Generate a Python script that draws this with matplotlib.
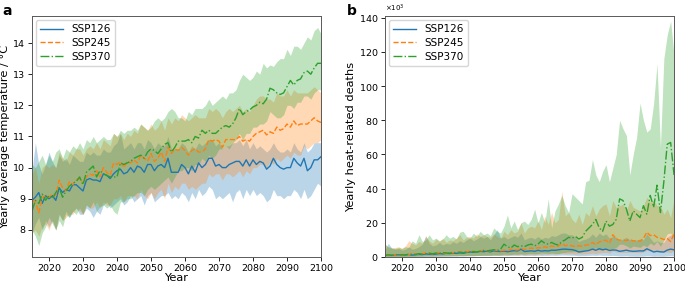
import numpy as np
import matplotlib
matplotlib.use("Agg")
import matplotlib.pyplot as plt

# years shared by both panels
years = np.arange(2015, 2101)
scenarios = ["SSP126", "SSP245", "SSP370"]

# panel a: yearly average temperature (degC), mean and band
temp_126 = [8.95, 9.05, 9.2, 8.85, 9.1, 9.0, 9.1, 8.95, 9.35, 9.2,
            9.3, 9.25, 9.45, 9.45, 9.35, 9.25, 9.6, 9.65, 9.6, 9.6,
            9.55, 9.8, 9.75, 9.65, 9.8, 9.9, 9.95, 9.8, 9.85, 10.0,
            9.85, 10.05, 10.0, 9.85, 10.1, 10.1, 9.9, 10.05, 10.1, 10.0,
            10.3, 9.85, 9.85, 9.85, 10.1, 10.0, 9.8, 10.05, 9.85, 10.15,
            10.0, 10.1, 10.3, 10.3, 10.05, 10.1, 10.0, 10.0, 10.1, 10.15,
            10.2, 10.2, 10.05, 10.25, 10.05, 10.25, 10.1, 10.2, 10.15, 9.95,
            10.05, 10.3, 10.1, 10.0, 9.95, 10.0, 10.0, 10.3, 10.15, 10.05,
            10.3, 9.9, 10.0, 10.25, 10.25, 10.35]
temp_126_lo = [7.9, 8.2, 8.4, 8.0, 8.3, 8.1, 8.3, 8.0, 8.5, 8.3,
               8.6, 8.4, 8.6, 8.7, 8.5, 8.5, 8.7, 8.6, 8.4, 8.6,
               8.5, 8.8, 8.9, 8.7, 8.8, 8.9, 9.0, 8.8, 8.9, 9.1,
               8.9, 9.0, 9.1, 8.8, 9.1, 9.2, 8.9, 9.0, 9.1, 9.1,
               9.2, 9.0, 9.1, 9.0, 9.2, 9.1, 8.9, 9.2, 9.0, 9.3,
               9.1, 9.2, 9.4, 9.3, 9.0, 9.1, 9.0, 9.1, 9.2, 8.9,
               9.2, 9.3, 9.0, 9.3, 9.1, 9.3, 9.1, 9.2, 9.1, 8.9,
               9.0, 9.3, 9.1, 9.1, 9.0, 9.1, 9.1, 9.3, 9.2, 9.0,
               9.3, 9.0, 9.1, 9.3, 9.5, 9.4]
temp_126_hi = [9.9, 10.8, 10.1, 9.8, 10.1, 10.5, 10.2, 10.0, 10.4, 10.2,
               10.3, 10.1, 10.4, 10.3, 10.2, 10.2, 10.5, 10.4, 10.5, 10.4,
               10.4, 10.6, 10.5, 10.5, 10.7, 10.8, 11.1, 10.6, 10.7, 10.8,
               10.6, 10.8, 10.8, 10.6, 10.9, 10.8, 10.6, 10.8, 10.7, 10.7,
               11.0, 10.6, 10.6, 10.6, 10.8, 10.7, 10.5, 10.7, 10.6, 10.8,
               10.7, 10.8, 10.9, 10.9, 10.7, 10.8, 10.6, 10.7, 10.7, 10.8,
               10.8, 10.9, 10.7, 10.9, 10.6, 10.8, 10.6, 10.7, 10.6, 10.5,
               10.6, 10.8, 10.6, 10.5, 10.5, 10.6, 10.5, 10.8, 10.6, 10.5,
               10.8, 10.5, 10.6, 10.8, 10.8, 10.8]

temp_245 = [8.95, 8.9, 8.55, 9.05, 9.1, 9.05, 9.15, 9.1, 9.6, 9.35,
            9.25, 9.55, 9.45, 9.6, 9.65, 9.5, 9.7, 9.8, 9.75, 9.9,
            9.7, 10.0, 9.85, 9.75, 10.15, 10.1, 10.2, 10.0, 10.2, 10.15,
            10.25, 10.15, 10.4, 10.3, 10.2, 10.45, 10.2, 10.3, 10.5, 10.2,
            10.65, 10.45, 10.6, 10.55, 10.65, 10.55, 10.4, 10.55, 10.6, 10.5,
            10.5, 10.6, 10.9, 10.85, 10.9, 10.85, 10.65, 10.9, 10.9, 10.9,
            10.9, 11.0, 10.85, 10.9, 10.85, 11.0, 11.1, 11.15, 11.2, 11.05,
            11.15, 11.1, 11.3, 11.2, 11.25, 11.4, 11.3, 11.5, 11.35, 11.4,
            11.4, 11.4, 11.5, 11.6, 11.5, 11.45]
temp_245_lo = [7.9, 8.0, 7.8, 8.1, 8.2, 8.0, 8.3, 8.0, 8.5, 8.3,
               8.4, 8.5, 8.5, 8.7, 8.6, 8.5, 8.8, 8.7, 8.7, 8.9,
               8.7, 8.9, 8.8, 8.8, 9.0, 9.0, 9.1, 8.9, 9.1, 9.1,
               9.1, 9.0, 9.3, 9.1, 9.0, 9.2, 9.0, 9.2, 9.3, 9.0,
               9.5, 9.2, 9.4, 9.3, 9.5, 9.5, 9.3, 9.4, 9.3, 9.4,
               9.5, 9.5, 9.8, 9.7, 9.8, 9.8, 9.6, 9.8, 9.8, 9.7,
               9.8, 9.9, 9.7, 9.9, 9.8, 10.0, 10.0, 10.1, 10.1, 10.0,
               10.2, 10.1, 10.3, 10.2, 10.3, 10.4, 10.3, 10.5, 10.4, 10.4,
               10.7, 10.6, 10.7, 10.8, 10.8, 10.9]
temp_245_hi = [9.8, 10.0, 9.5, 10.0, 10.1, 10.0, 10.1, 10.0, 10.5, 10.3,
               10.2, 10.5, 10.4, 10.6, 10.6, 10.4, 10.6, 10.7, 10.6, 10.8,
               10.6, 10.9, 10.8, 10.7, 11.1, 11.0, 11.1, 10.9, 11.1, 11.0,
               11.2, 11.1, 11.4, 11.3, 11.2, 11.4, 11.2, 11.3, 11.5, 11.2,
               11.6, 11.4, 11.6, 11.5, 11.7, 11.6, 11.5, 11.6, 11.7, 11.6,
               11.6, 11.6, 11.9, 11.8, 11.9, 11.8, 11.6, 11.8, 11.9, 11.8,
               11.9, 12.0, 11.8, 11.9, 11.8, 12.0, 12.2, 12.3, 12.3, 12.2,
               12.2, 12.1, 12.4, 12.3, 12.3, 12.5, 12.3, 12.5, 12.4, 12.4,
               12.4, 12.4, 12.5, 12.6, 12.5, 12.4]

temp_370 = [8.6, 8.95, 8.85, 9.15, 8.95, 9.1, 9.0, 9.2, 9.35, 9.05,
            9.25, 9.4, 9.5, 9.55, 9.7, 9.45, 9.85, 9.95, 10.05, 9.7,
            9.9, 9.8, 9.75, 9.7, 9.7, 9.7, 10.15, 10.1, 10.15, 10.2,
            10.3, 10.35, 10.4, 10.3, 10.5, 10.6, 10.55, 10.45, 10.6, 10.75,
            10.8, 10.5, 10.65, 10.85, 10.85, 10.85, 10.9, 10.8, 11.0, 10.95,
            11.2, 11.1, 11.2, 11.1, 11.1, 11.2, 11.3, 11.35, 11.3, 11.4,
            11.6, 11.9, 11.7, 11.8, 11.85, 11.95, 12.0, 12.1, 12.05, 12.2,
            12.55, 12.5, 12.4, 12.35, 12.4, 12.6, 12.8, 12.65, 12.8, 12.85,
            13.05, 13.1, 13.0, 13.2, 13.35, 13.35]
temp_370_lo = [8.0, 7.8, 7.5, 7.9, 8.1, 8.4, 8.2, 8.0, 8.3, 8.1,
               8.5, 8.4, 8.6, 8.5, 8.7, 8.5, 8.8, 8.7, 8.9, 8.6,
               8.75, 8.8, 8.7, 8.8, 8.6, 8.5, 8.9, 8.9, 9.0, 9.0,
               9.1, 9.2, 9.2, 9.1, 9.3, 9.4, 9.3, 9.4, 9.5, 9.6,
               9.7, 9.5, 9.7, 9.9, 9.9, 10.0, 10.0, 9.9, 10.1, 10.1,
               10.3, 10.2, 10.4, 10.3, 10.4, 10.6, 10.6, 10.7, 10.6, 10.8,
               10.9, 11.1, 10.9, 11.1, 11.1, 11.3, 11.3, 11.4, 11.4, 11.5,
               11.8, 11.7, 11.6, 11.6, 11.7, 12.0, 12.0, 11.9, 12.1, 12.1,
               12.3, 12.3, 12.2, 12.4, 12.5, 12.5]
temp_370_hi = [10.1, 10.0, 10.2, 10.4, 10.1, 10.4, 10.2, 10.5, 10.6, 10.3,
               10.6, 10.5, 10.7, 10.6, 10.8, 10.6, 10.9, 10.8, 11.0, 10.8,
               10.9, 11.0, 10.9, 10.9, 11.1, 11.0, 11.2, 11.1, 11.2, 11.2,
               11.3, 11.2, 11.4, 11.3, 11.2, 11.3, 11.5, 11.6, 11.5, 11.6,
               11.8, 11.9, 11.8, 11.6, 11.6, 11.5, 11.8, 11.7, 11.9, 11.9,
               11.9, 12.0, 12.2, 12.0, 12.1, 12.2, 12.3, 12.2, 12.4, 12.4,
               12.5, 12.8, 13.0, 12.9, 12.8, 12.9, 13.1, 13.0, 13.35, 13.2,
               13.3, 13.25, 13.4, 13.5, 13.5, 13.8, 13.6, 13.9, 13.9, 13.8,
               14.0, 14.2, 14.1, 14.4, 14.5, 14.3]

# panel b: yearly heat-related deaths, in thousands
deaths_126 = [1.0, 1.2, 0.9, 1.1, 1.3, 1.0, 1.2, 1.4, 1.1, 1.3,
              1.5, 1.4, 1.8, 1.6, 1.5, 1.7, 2.0, 1.8, 2.1, 2.0,
              2.3, 2.1, 2.4, 2.2, 2.6, 3.0, 2.7, 2.9, 3.3, 3.1,
              3.4, 3.0, 3.6, 3.3, 3.2, 3.5, 3.1, 3.4, 3.7, 3.5,
              4.6, 3.2, 3.4, 3.6, 3.3, 3.9, 3.4, 3.7, 3.5, 4.0,
              3.9, 4.2, 4.5, 4.6, 4.4, 4.3, 3.8, 2.9, 3.2, 3.5,
              3.8, 4.6, 3.9, 4.8, 4.2, 4.6, 3.8, 4.1, 4.0, 3.3,
              3.6, 4.0, 3.5, 3.3, 3.4, 3.6, 3.5, 4.8, 3.9, 2.9,
              3.3, 3.0, 2.9, 4.0, 4.6, 4.2]
deaths_126_lo = [0.2, 0.3, 0.2, 0.3, 0.3, 0.2, 0.3, 0.4, 0.3, 0.3,
                 0.4, 0.4, 0.5, 0.4, 0.4, 0.5, 0.5, 0.5, 0.6, 0.5,
                 0.6, 0.6, 0.7, 0.6, 0.7, 0.8, 0.7, 0.8, 0.9, 0.8,
                 0.9, 0.8, 0.9, 0.9, 0.8, 0.9, 0.8, 0.9, 1.0, 0.9,
                 1.0, 0.8, 0.9, 0.9, 0.8, 1.0, 0.8, 0.9, 0.9, 1.0,
                 0.9, 1.0, 1.1, 1.1, 1.0, 1.0, 0.9, 0.7, 0.8, 0.8,
                 0.9, 1.0, 0.9, 1.1, 0.9, 1.0, 0.8, 0.9, 0.8, 0.6,
                 0.6, 0.7, 0.5, 0.5, 0.4, 0.5, 0.5, 0.7, 0.6, 0.4,
                 0.5, 0.4, 0.4, 0.6, 0.7, 0.6]
deaths_126_hi = [4.0, 8.0, 5.0, 4.5, 5.0, 4.0, 4.5, 6.0, 4.5, 5.0,
                 6.0, 7.5, 12.5, 8.0, 6.5, 7.0, 8.5, 7.0, 8.0, 7.5,
                 9.0, 8.0, 9.5, 8.5, 10.0, 11.0, 9.5, 10.5, 12.0, 11.0,
                 12.0, 10.0, 13.0, 16.0, 11.0, 12.0, 10.5, 11.5, 12.5, 11.5,
                 14.0, 10.0, 11.0, 11.5, 10.5, 12.0, 10.5, 11.5, 11.0, 12.5,
                 12.0, 13.0, 14.0, 14.0, 13.0, 13.0, 11.5, 9.0, 10.0, 10.5,
                 11.5, 13.5, 11.5, 14.0, 12.5, 13.5, 11.0, 12.0, 11.5, 9.5,
                 10.5, 11.5, 10.0, 9.5, 10.0, 10.5, 10.0, 13.5, 11.0, 8.5,
                 9.5, 8.5, 8.5, 11.5, 13.0, 12.0]

deaths_245 = [1.2, 1.0, 1.3, 1.1, 1.4, 1.0, 1.5, 1.3, 2.2, 1.8,
              1.6, 1.9, 2.5, 2.2, 1.8, 2.1, 2.6, 2.4, 2.2, 2.7,
              2.5, 3.0, 2.8, 3.1, 2.9, 3.6, 3.3, 3.0, 3.4, 4.0,
              3.7, 3.6, 4.2, 3.8, 3.5, 4.0, 3.6, 4.5, 4.3, 4.1,
              5.0, 4.4, 4.8, 5.2, 4.8, 5.5, 5.2, 6.0, 5.4, 6.5,
              5.9, 6.3, 7.8, 6.6, 7.0, 6.5, 6.0, 6.6, 6.2, 7.0,
              7.2, 8.5, 7.2, 8.8, 9.5, 9.8, 8.0, 13.0, 10.5, 9.8,
              9.8, 9.6, 10.2, 9.4, 9.6, 9.2, 10.8, 14.5, 12.5, 13.0,
              11.5, 11.0, 10.2, 10.8, 9.0, 13.5]
deaths_245_lo = [0.3, 0.3, 0.4, 0.3, 0.4, 0.3, 0.4, 0.4, 0.5, 0.5,
                 0.5, 0.5, 0.6, 0.6, 0.5, 0.6, 0.7, 0.7, 0.6, 0.8,
                 0.7, 0.8, 0.8, 0.9, 0.8, 1.0, 0.9, 0.9, 1.0, 1.1,
                 1.0, 1.0, 1.2, 1.1, 1.0, 1.1, 1.0, 1.3, 1.2, 1.2,
                 1.5, 1.2, 1.3, 1.4, 1.3, 1.5, 1.4, 1.7, 1.5, 1.8,
                 1.6, 1.7, 2.1, 1.8, 1.9, 1.8, 1.6, 1.8, 1.7, 1.9,
                 2.0, 2.3, 2.0, 2.4, 2.6, 2.7, 2.2, 3.5, 2.9, 2.7,
                 2.7, 2.6, 2.8, 2.6, 2.6, 2.5, 2.9, 3.9, 3.4, 3.5,
                 3.1, 3.0, 2.8, 2.9, 2.5, 3.6]
deaths_245_hi = [7.5, 5.5, 5.0, 5.5, 6.0, 5.0, 6.5, 9.5, 8.0, 7.0,
                 9.0, 8.0, 12.0, 9.5, 8.0, 10.5, 9.0, 11.0, 8.5, 10.0,
                 9.5, 11.0, 13.0, 10.0, 11.5, 12.0, 11.0, 13.5, 12.0, 13.0,
                 12.0, 11.5, 13.5, 12.0, 11.0, 15.0, 13.0, 16.0, 14.0, 15.0,
                 20.0, 14.0, 17.0, 18.0, 17.0, 21.0, 16.0, 24.0, 19.0, 26.0,
                 20.0, 22.0, 38.5, 24.0, 26.0, 22.0, 20.0, 25.0, 19.0, 26.0,
                 24.0, 30.0, 24.0, 28.0, 30.0, 31.0, 24.0, 33.0, 29.0, 30.0,
                 31.0, 27.0, 33.0, 29.0, 28.0, 27.0, 30.0, 35.0, 32.0, 33.0,
                 30.0, 30.0, 25.0, 28.0, 23.0, 34.0]

deaths_370 = [0.8, 1.2, 1.0, 1.4, 1.1, 1.3, 1.2, 1.6, 1.4, 1.5,
              1.9, 1.6, 1.8, 2.2, 1.9, 2.3, 2.0, 2.6, 2.3, 2.2,
              2.6, 2.4, 2.8, 2.5, 2.9, 2.6, 3.2, 3.0, 3.3, 3.8,
              3.5, 3.9, 4.2, 3.8, 4.5, 7.5, 6.0, 5.2, 7.0, 6.0,
              6.5, 6.0, 7.0, 7.5, 6.5, 7.5, 9.5, 8.0, 7.5, 8.5,
              7.5, 7.0, 9.0, 10.0, 11.5, 11.0, 12.0, 10.5, 11.5, 15.0,
              17.0, 19.0, 22.0, 17.0, 15.0, 21.0, 18.0, 19.0, 22.0, 34.0,
              33.0, 28.0, 21.0, 27.0, 25.0, 23.0, 30.0, 25.0, 36.0, 29.0,
              42.0, 26.0, 44.0, 66.0, 67.0, 48.0]
deaths_370_lo = [0.1, 0.2, 0.2, 0.3, 0.2, 0.3, 0.3, 0.3, 0.3, 0.4,
                 0.4, 0.4, 0.4, 0.5, 0.5, 0.5, 0.5, 0.6, 0.6, 0.6,
                 0.7, 0.6, 0.7, 0.7, 0.8, 0.7, 0.8, 0.9, 0.9, 1.0,
                 1.0, 1.1, 1.2, 1.1, 1.3, 1.6, 1.5, 1.4, 1.7, 1.6,
                 1.8, 1.6, 1.9, 2.0, 1.8, 2.0, 2.4, 2.2, 2.1, 2.3,
                 2.1, 2.0, 2.5, 2.7, 3.0, 3.0, 3.2, 2.9, 3.1, 3.8,
                 4.2, 4.6, 5.2, 4.3, 4.0, 5.2, 4.6, 4.8, 5.5, 7.5,
                 7.4, 6.5, 5.2, 6.4, 6.0, 5.6, 7.0, 6.0, 8.2, 6.8,
                 9.2, 6.2, 9.8, 13.5, 14.0, 10.5]
deaths_370_hi = [7.5, 6.0, 5.5, 5.0, 5.5, 5.0, 6.0, 5.5, 9.5, 8.0,
                 13.0, 9.0, 10.0, 13.0, 10.0, 11.0, 9.5, 10.5, 13.0, 11.0,
                 12.0, 10.5, 14.5, 15.0, 12.0, 11.0, 14.0, 12.0, 15.0, 13.0,
                 14.0, 12.5, 17.0, 15.0, 14.0, 18.0, 24.5, 17.0, 21.0, 16.0,
                 20.0, 21.0, 19.0, 22.0, 28.0, 20.0, 26.0, 20.0, 34.0, 17.0,
                 27.0, 31.0, 36.0, 30.0, 26.0, 37.0, 35.0, 33.0, 31.0, 44.0,
                 45.0, 57.0, 48.0, 44.0, 50.0, 54.0, 44.0, 52.0, 60.0, 80.0,
                 75.0, 71.0, 48.0, 60.0, 70.0, 90.0, 80.0, 73.0, 75.0, 90.0,
                 113.0, 64.0, 116.0, 130.0, 138.0, 118.0]

colors = ["tab:blue", "tab:orange", "tab:green"]
styles = ["-", "--", "-."]

temp = [(temp_126, temp_126_lo, temp_126_hi),
        (temp_245, temp_245_lo, temp_245_hi),
        (temp_370, temp_370_lo, temp_370_hi)]
deaths = [(deaths_126, deaths_126_lo, deaths_126_hi),
          (deaths_245, deaths_245_lo, deaths_245_hi),
          (deaths_370, deaths_370_lo, deaths_370_hi)]

fig = plt.figure(figsize=(6.85, 2.83), dpi=100)
ax1 = fig.add_axes([0.0467, 0.092, 0.4219, 0.8515])
ax2 = fig.add_axes([0.562, 0.092, 0.422, 0.8515])

for ax, data, scale in [(ax1, temp, 1.0), (ax2, deaths, 1000.0)]:
    for name, (m, lo, hi), c, ls in zip(scenarios, data, colors, styles):
        ax.plot(years, np.array(m) * scale, color=c, ls=ls, lw=1, label=name)
        ax.fill_between(years, np.array(lo) * scale, np.array(hi) * scale,
                        color=c, alpha=0.3, lw=0)
    ax.set_xlim(2015, 2100)
    ax.set_xticks(range(2020, 2101, 10))
    ax.tick_params(labelsize=6.8, length=3, width=0.6, pad=2)
    ax.set_xlabel("Year", fontsize=8.2, labelpad=0)
    ax.legend(loc="upper left", fontsize=7.5, handlelength=2.2,
              borderaxespad=0.4, labelspacing=0.35)
    for s in ax.spines.values():
        s.set_color("0.35")
        s.set_linewidth(0.7)

ax1.set_ylim(7.13, 14.87)
ax1.set_ylabel("Yearly average temperature / °C", fontsize=8.2, labelpad=2)

ax2.set_ylim(0, 141000)
ax2.ticklabel_format(axis="y", style="sci", scilimits=(3, 3), useMathText=True)
ax2.yaxis.get_offset_text().set_fontsize(5)
ax2.set_ylabel("Yearly heat-related deaths", fontsize=8.2, labelpad=2)

fig.text(0.003, 0.985, "a", fontsize=10, fontweight="bold", va="top")
fig.text(0.506, 0.985, "b", fontsize=10, fontweight="bold", va="top")

fig.savefig("out.png", dpi=100)
